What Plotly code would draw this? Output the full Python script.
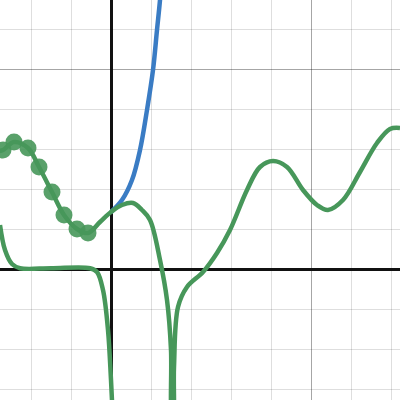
import plotly.graph_objects as go

# Blue curve (x >= 0)
blue_x = [0, 0.275, 0.525, 0.725, 0.9, 1.05, 1.15, 1.225, 1.26]
blue_y = [1.425, 1.725, 2.225, 2.975, 3.975, 4.975, 5.975, 6.725, 7.2]

# Main green curve
green_x = [-2.8, -2.7, -2.425, -2.075, -1.8, -1.475, -1.175, -0.85, -0.575, -0.275, 0, 0.275,
           0.55, 0.775, 0.975, 1.225, 1.4, 1.5, 1.525, 1.55, 1.575, 1.675, 1.9, 2.3, 2.65,
           2.975, 3.4, 3.725, 4.05, 4.4, 4.8, 5.15, 5.425, 5.8, 6.225, 6.65, 6.975, 7.225]
green_y = [2.95, 2.975, 3.175, 3.025, 2.55, 1.925, 1.35, 1.0, 0.9, 1.175, 1.425, 1.6,
           1.65, 1.475, 1.225, 0.225, -0.775, -2.025, -3.8, -3.8, -2.45, -0.95, -0.45, -0.075, 0.4,
           0.975, 1.975, 2.55, 2.7, 2.55, 1.975, 1.6, 1.475, 1.725, 2.425, 3.15, 3.5, 3.525]

# Sample points
pts_x = [-2.7, -2.425, -2.075, -1.8, -1.475, -1.175, -0.85, -0.575]
pts_y = [2.975, 3.175, 3.025, 2.55, 1.925, 1.35, 1.0, 0.9]

# Left green curve
left_x = [-2.775, -2.65, -2.475, -2.275, -1.5, -0.525, -0.35, -0.2, -0.075, 0, 0.05]
left_y = [1.1, 0.475, 0.125, 0.02, 0.02, 0.02, -0.075, -0.525, -1.525, -2.775, -3.8]

GREEN = "#47975a"
BLUE = "#3a7cc4"
line_style = dict(width=4.5, shape="spline", smoothing=1.0)

fig = go.Figure()
fig.add_trace(go.Scatter(x=left_x, y=left_y, mode="lines", line=dict(line_style, color=GREEN)))
fig.add_trace(go.Scatter(x=blue_x, y=blue_y, mode="lines", line=dict(line_style, color=BLUE)))
fig.add_trace(go.Scatter(x=green_x, y=green_y, mode="lines", line=dict(line_style, color=GREEN)))
fig.add_trace(go.Scatter(x=pts_x, y=pts_y, mode="markers",
                         marker=dict(color=GREEN, size=17, opacity=0.9, line=dict(width=0))))

axis = dict(
    showgrid=True, gridcolor="rgba(0,0,0,0.35)", gridwidth=1.2, dtick=5, tick0=0,
    minor=dict(dtick=1, showgrid=True, gridcolor="rgba(0,0,0,0.13)", gridwidth=1.2),
    zeroline=True, zerolinecolor="#111", zerolinewidth=2.5,
    showticklabels=False, ticks="",
)
fig.update_layout(
    width=400, height=400, margin=dict(l=0, r=0, t=0, b=0),
    plot_bgcolor="white", paper_bgcolor="white", showlegend=False,
    xaxis=dict(axis, range=[-2.775, 7.225]),
    yaxis=dict(axis, range=[-3.275, 6.725]),
)
fig.write_html("out.html", config=dict(displayModeBar=False),
               post_script="document.body.style.margin='0';")
